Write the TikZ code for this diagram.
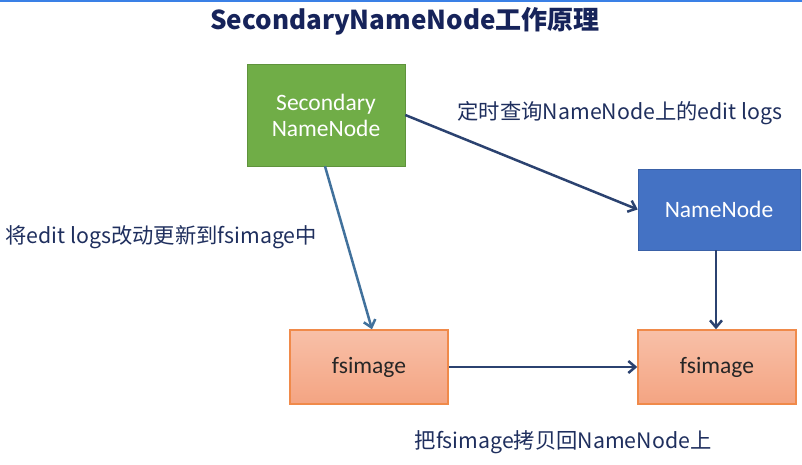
\documentclass[tikz,border=0pt]{standalone}
\usepackage{fontspec}
\setmainfont{Carlito}
\newfontfamily\cjk{Noto Sans CJK SC}
\usetikzlibrary{arrows.meta}
\definecolor{titlec}{HTML}{16235A}
\definecolor{labelc}{HTML}{1F2F5E}
\definecolor{greenc}{HTML}{70AD47}
\definecolor{bluec}{HTML}{4472C4}
\definecolor{orangetop}{HTML}{F8C0A8}
\definecolor{orangebot}{HTML}{F4A482}
\definecolor{orangeborder}{HTML}{F08A4A}
\definecolor{darkarrow}{HTML}{2B4270}
\definecolor{steelarrow}{HTML}{41719C}
\definecolor{topline}{HTML}{3A80E6}
\tikzset{
  x=1pt, y=-1pt,
  boxtext/.style={font=\fontsize{23.5}{28}\selectfont, text=white, align=center, inner sep=0pt},
  greenbox/.style={boxtext, fill=greenc, draw=greenc!85!black, line width=0.6pt, minimum width=158pt, minimum height=102pt},
  bluebox/.style={boxtext, fill=bluec, draw=bluec!85!black, line width=0.6pt, minimum width=162pt, minimum height=81pt},
  orangebox/.style={boxtext, text=black!85, top color=orangetop, bottom color=orangebot, draw=orangeborder, line width=1.5pt, minimum width=158pt, minimum height=74pt},
  lbl/.style={font=\cjk\fontsize{21.3}{25}\selectfont, text=labelc, inner sep=0pt},
  conn/.style={line width=2.5pt, -{Straight Barb[length=7pt,width=12pt,line width=2.5pt]}},
}
\begin{document}
\begin{tikzpicture}
\useasboundingbox (0,0) rectangle (802,464);
\fill[white] (0,0) rectangle (802,464);
\draw[topline, line width=1.5pt] (0,0.75) -- (802,0.75);
\node[font=\cjk\bfseries\fontsize{26}{31}\selectfont, text=titlec, inner sep=0pt] (title) at (405,21) {SecondaryNameNode工作原理};
\node[greenbox] (sn) at (326,115) {Secondary\\[-2pt]NameNode};
\node[bluebox] (nn) at (719,209.5) {NameNode};
\node[orangebox] (fs1) at (369,367) {fsimage};
\node[orangebox] (fs2) at (717,367) {fsimage};
\node[lbl] (l1) at (620,113) {定时查询NameNode上的edit logs};
\node[lbl, anchor=west] (l2) at (5,237) {将edit logs改动更新到fsimage中};
\node[lbl] (l3) at (563,442) {把fsimage拷贝回NameNode上};
\draw[conn, darkarrow] (sn.east) -- (nn.west);
\draw[conn, steelarrow] ([xshift=-1pt]sn.south) -- ([xshift=3pt]fs1.north);
\draw[conn, darkarrow] ([xshift=-3pt]nn.south) -- ([xshift=-1pt]fs2.north);
\draw[conn, darkarrow] (fs1.east) -- (fs2.west);
\end{tikzpicture}
\end{document}
